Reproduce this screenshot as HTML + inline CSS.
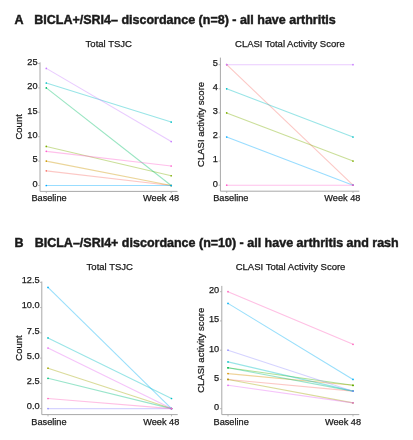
<!DOCTYPE html>
<html><head><meta charset="utf-8"><style>
html,body{margin:0;padding:0;background:#fff;}
body{width:413px;height:440px;overflow:hidden;}
svg{display:block;will-change:transform;}
text{font-family:"Liberation Sans",sans-serif;fill:#1a1a1a;stroke:#1a1a1a;stroke-width:0.25px;}
</style></head><body>
<svg width="413" height="440" viewBox="0 0 413 440">
<rect width="413" height="440" fill="#fff"/>
<text x="14.5" y="23.7" font-size="12.5" font-weight="bold" style="stroke-width:0.45px">A</text>
<text x="34.3" y="23.7" font-size="12.5" font-weight="bold" style="stroke-width:0.45px">BICLA+/SRI4– discordance (n=8) - all have arthritis</text>
<text x="14.4" y="246.9" font-size="12.5" font-weight="bold" style="stroke-width:0.45px">B</text>
<text x="34.7" y="246.9" font-size="12.5" font-weight="bold" style="stroke-width:0.45px">BICLA–/SRI4+ discordance (n=10) - all have arthritis and rash</text>
<line x1="40" y1="62.3" x2="40" y2="191.4" stroke="#a8a8a8" stroke-width="1"/>
<line x1="40" y1="191.4" x2="177.5" y2="191.4" stroke="#a8a8a8" stroke-width="1"/>
<line x1="38.2" y1="185.50" x2="40" y2="185.50" stroke="#a8a8a8" stroke-width="0.8"/>
<text x="37.6" y="186.80" text-anchor="end" font-size="9.2">0</text>
<line x1="38.2" y1="161.10" x2="40" y2="161.10" stroke="#a8a8a8" stroke-width="0.8"/>
<text x="37.6" y="162.40" text-anchor="end" font-size="9.2">5</text>
<line x1="38.2" y1="136.70" x2="40" y2="136.70" stroke="#a8a8a8" stroke-width="0.8"/>
<text x="37.6" y="138.00" text-anchor="end" font-size="9.2">10</text>
<line x1="38.2" y1="112.30" x2="40" y2="112.30" stroke="#a8a8a8" stroke-width="0.8"/>
<text x="37.6" y="113.60" text-anchor="end" font-size="9.2">15</text>
<line x1="38.2" y1="87.90" x2="40" y2="87.90" stroke="#a8a8a8" stroke-width="0.8"/>
<text x="37.6" y="89.20" text-anchor="end" font-size="9.2">20</text>
<line x1="38.2" y1="63.50" x2="40" y2="63.50" stroke="#a8a8a8" stroke-width="0.8"/>
<text x="37.6" y="64.80" text-anchor="end" font-size="9.2">25</text>
<line x1="46.3" y1="191.4" x2="46.3" y2="193.20000000000002" stroke="#a8a8a8" stroke-width="0.8"/>
<line x1="171.2" y1="191.4" x2="171.2" y2="193.20000000000002" stroke="#a8a8a8" stroke-width="0.8"/>
<text x="31.4" y="201.2" text-anchor="start" font-size="9.2">Baseline</text>
<text x="179.2" y="201.2" text-anchor="end" font-size="9.2">Week 48</text>
<text x="108.75" y="47.0" text-anchor="middle" font-size="9.5">Total TSJC</text>
<text transform="translate(21.9,126.85) rotate(-90)" text-anchor="middle" font-size="9.5">Count</text>
<line x1="46.3" y1="170.86" x2="171.2" y2="185.50" stroke="#F8766D" stroke-opacity="0.4" stroke-width="1.1"/>
<line x1="46.3" y1="161.10" x2="171.2" y2="185.50" stroke="#CD9600" stroke-opacity="0.4" stroke-width="1.1"/>
<line x1="46.3" y1="146.46" x2="171.2" y2="175.74" stroke="#7CAE00" stroke-opacity="0.4" stroke-width="1.1"/>
<line x1="46.3" y1="87.90" x2="171.2" y2="185.50" stroke="#00BE67" stroke-opacity="0.4" stroke-width="1.1"/>
<line x1="46.3" y1="83.02" x2="171.2" y2="122.06" stroke="#00BFC4" stroke-opacity="0.4" stroke-width="1.1"/>
<line x1="46.3" y1="185.50" x2="171.2" y2="185.50" stroke="#00A9FF" stroke-opacity="0.4" stroke-width="1.1"/>
<line x1="46.3" y1="68.38" x2="171.2" y2="141.58" stroke="#C77CFF" stroke-opacity="0.4" stroke-width="1.1"/>
<line x1="46.3" y1="151.34" x2="171.2" y2="165.98" stroke="#FF61CC" stroke-opacity="0.4" stroke-width="1.1"/>
<circle cx="46.3" cy="170.86" r="0.85" fill="#F8766D"/>
<circle cx="171.2" cy="185.50" r="0.85" fill="#F8766D"/>
<circle cx="46.3" cy="161.10" r="0.85" fill="#CD9600"/>
<circle cx="171.2" cy="185.50" r="0.85" fill="#CD9600"/>
<circle cx="46.3" cy="146.46" r="0.85" fill="#7CAE00"/>
<circle cx="171.2" cy="175.74" r="0.85" fill="#7CAE00"/>
<circle cx="46.3" cy="87.90" r="0.85" fill="#00BE67"/>
<circle cx="171.2" cy="185.50" r="0.85" fill="#00BE67"/>
<circle cx="46.3" cy="83.02" r="0.85" fill="#00BFC4"/>
<circle cx="171.2" cy="122.06" r="0.85" fill="#00BFC4"/>
<circle cx="46.3" cy="185.50" r="0.85" fill="#00A9FF"/>
<circle cx="171.2" cy="185.50" r="0.85" fill="#00A9FF"/>
<circle cx="46.3" cy="68.38" r="0.85" fill="#C77CFF"/>
<circle cx="171.2" cy="141.58" r="0.85" fill="#C77CFF"/>
<circle cx="46.3" cy="151.34" r="0.85" fill="#FF61CC"/>
<circle cx="171.2" cy="165.98" r="0.85" fill="#FF61CC"/>
<line x1="220.4" y1="57.6" x2="220.4" y2="191.2" stroke="#a8a8a8" stroke-width="1"/>
<line x1="220.4" y1="191.2" x2="359.3" y2="191.2" stroke="#a8a8a8" stroke-width="1"/>
<line x1="218.6" y1="185.20" x2="220.4" y2="185.20" stroke="#a8a8a8" stroke-width="0.8"/>
<text x="217.8" y="186.50" text-anchor="end" font-size="9.2">0</text>
<line x1="218.6" y1="161.10" x2="220.4" y2="161.10" stroke="#a8a8a8" stroke-width="0.8"/>
<text x="217.8" y="162.40" text-anchor="end" font-size="9.2">1</text>
<line x1="218.6" y1="137.00" x2="220.4" y2="137.00" stroke="#a8a8a8" stroke-width="0.8"/>
<text x="217.8" y="138.30" text-anchor="end" font-size="9.2">2</text>
<line x1="218.6" y1="112.90" x2="220.4" y2="112.90" stroke="#a8a8a8" stroke-width="0.8"/>
<text x="217.8" y="114.20" text-anchor="end" font-size="9.2">3</text>
<line x1="218.6" y1="88.80" x2="220.4" y2="88.80" stroke="#a8a8a8" stroke-width="0.8"/>
<text x="217.8" y="90.10" text-anchor="end" font-size="9.2">4</text>
<line x1="218.6" y1="64.70" x2="220.4" y2="64.70" stroke="#a8a8a8" stroke-width="0.8"/>
<text x="217.8" y="66.00" text-anchor="end" font-size="9.2">5</text>
<line x1="226.7" y1="191.2" x2="226.7" y2="193.0" stroke="#a8a8a8" stroke-width="0.8"/>
<line x1="353" y1="191.2" x2="353" y2="193.0" stroke="#a8a8a8" stroke-width="0.8"/>
<text x="213.2" y="201.2" text-anchor="start" font-size="9.2">Baseline</text>
<text x="360.4" y="201.2" text-anchor="end" font-size="9.2">Week 48</text>
<text x="289.85" y="47.0" text-anchor="middle" font-size="9.5">CLASI Total Activity Score</text>
<text transform="translate(204,124.40) rotate(-90)" text-anchor="middle" font-size="9.5">CLASI activity score</text>
<line x1="226.7" y1="64.70" x2="353" y2="185.20" stroke="#F8766D" stroke-opacity="0.4" stroke-width="1.1"/>
<line x1="226.7" y1="112.90" x2="353" y2="161.10" stroke="#7CAE00" stroke-opacity="0.4" stroke-width="1.1"/>
<line x1="226.7" y1="88.80" x2="353" y2="137.00" stroke="#00BFC4" stroke-opacity="0.4" stroke-width="1.1"/>
<line x1="226.7" y1="137.00" x2="353" y2="185.20" stroke="#00A9FF" stroke-opacity="0.4" stroke-width="1.1"/>
<line x1="226.7" y1="64.70" x2="353" y2="64.70" stroke="#C77CFF" stroke-opacity="0.4" stroke-width="1.1"/>
<line x1="226.7" y1="185.20" x2="353" y2="185.20" stroke="#FF61CC" stroke-opacity="0.4" stroke-width="1.1"/>
<circle cx="226.7" cy="64.70" r="0.85" fill="#F8766D"/>
<circle cx="353" cy="185.20" r="0.85" fill="#F8766D"/>
<circle cx="226.7" cy="112.90" r="0.85" fill="#7CAE00"/>
<circle cx="353" cy="161.10" r="0.85" fill="#7CAE00"/>
<circle cx="226.7" cy="88.80" r="0.85" fill="#00BFC4"/>
<circle cx="353" cy="137.00" r="0.85" fill="#00BFC4"/>
<circle cx="226.7" cy="137.00" r="0.85" fill="#00A9FF"/>
<circle cx="353" cy="185.20" r="0.85" fill="#00A9FF"/>
<circle cx="226.7" cy="64.70" r="0.85" fill="#C77CFF"/>
<circle cx="353" cy="64.70" r="0.85" fill="#C77CFF"/>
<circle cx="226.7" cy="185.20" r="0.85" fill="#FF61CC"/>
<circle cx="353" cy="185.20" r="0.85" fill="#FF61CC"/>
<line x1="41.8" y1="281.5" x2="41.8" y2="414.6" stroke="#a8a8a8" stroke-width="1"/>
<line x1="41.8" y1="414.6" x2="177.7" y2="414.6" stroke="#a8a8a8" stroke-width="1"/>
<line x1="40.0" y1="408.60" x2="41.8" y2="408.60" stroke="#a8a8a8" stroke-width="0.8"/>
<text x="39.6" y="409.40" text-anchor="end" font-size="9.2">0.0</text>
<line x1="40.0" y1="383.35" x2="41.8" y2="383.35" stroke="#a8a8a8" stroke-width="0.8"/>
<text x="39.6" y="384.15" text-anchor="end" font-size="9.2">2.5</text>
<line x1="40.0" y1="358.10" x2="41.8" y2="358.10" stroke="#a8a8a8" stroke-width="0.8"/>
<text x="39.6" y="358.90" text-anchor="end" font-size="9.2">5.0</text>
<line x1="40.0" y1="332.85" x2="41.8" y2="332.85" stroke="#a8a8a8" stroke-width="0.8"/>
<text x="39.6" y="333.65" text-anchor="end" font-size="9.2">7.5</text>
<line x1="40.0" y1="307.60" x2="41.8" y2="307.60" stroke="#a8a8a8" stroke-width="0.8"/>
<text x="39.6" y="308.40" text-anchor="end" font-size="9.2">10.0</text>
<line x1="40.0" y1="282.35" x2="41.8" y2="282.35" stroke="#a8a8a8" stroke-width="0.8"/>
<text x="39.6" y="283.15" text-anchor="end" font-size="9.2">12.5</text>
<line x1="48" y1="414.6" x2="48" y2="416.40000000000003" stroke="#a8a8a8" stroke-width="0.8"/>
<line x1="171.5" y1="414.6" x2="171.5" y2="416.40000000000003" stroke="#a8a8a8" stroke-width="0.8"/>
<text x="31.3" y="424.7" text-anchor="start" font-size="9.2">Baseline</text>
<text x="179.3" y="424.7" text-anchor="end" font-size="9.2">Week 48</text>
<text x="109.75" y="270.1" text-anchor="middle" font-size="9.5">Total TSJC</text>
<text transform="translate(21.9,348.05) rotate(-90)" text-anchor="middle" font-size="9.5">Count</text>
<line x1="48" y1="368.20" x2="171.5" y2="408.60" stroke="#A3A500" stroke-opacity="0.4" stroke-width="1.1"/>
<line x1="48" y1="378.30" x2="171.5" y2="408.60" stroke="#00BF7D" stroke-opacity="0.4" stroke-width="1.1"/>
<line x1="48" y1="337.90" x2="171.5" y2="398.50" stroke="#00BFC4" stroke-opacity="0.4" stroke-width="1.1"/>
<line x1="48" y1="287.40" x2="171.5" y2="408.60" stroke="#00B0F6" stroke-opacity="0.4" stroke-width="1.1"/>
<line x1="48" y1="408.60" x2="171.5" y2="408.60" stroke="#9590FF" stroke-opacity="0.4" stroke-width="1.1"/>
<line x1="48" y1="348.00" x2="171.5" y2="408.60" stroke="#E76BF3" stroke-opacity="0.4" stroke-width="1.1"/>
<line x1="48" y1="398.50" x2="171.5" y2="408.60" stroke="#FF62BC" stroke-opacity="0.4" stroke-width="1.1"/>
<circle cx="48" cy="368.20" r="0.85" fill="#A3A500"/>
<circle cx="171.5" cy="408.60" r="0.85" fill="#A3A500"/>
<circle cx="48" cy="378.30" r="0.85" fill="#00BF7D"/>
<circle cx="171.5" cy="408.60" r="0.85" fill="#00BF7D"/>
<circle cx="48" cy="337.90" r="0.85" fill="#00BFC4"/>
<circle cx="171.5" cy="398.50" r="0.85" fill="#00BFC4"/>
<circle cx="48" cy="287.40" r="0.85" fill="#00B0F6"/>
<circle cx="171.5" cy="408.60" r="0.85" fill="#00B0F6"/>
<circle cx="48" cy="408.60" r="0.85" fill="#9590FF"/>
<circle cx="171.5" cy="408.60" r="0.85" fill="#9590FF"/>
<circle cx="48" cy="348.00" r="0.85" fill="#E76BF3"/>
<circle cx="171.5" cy="408.60" r="0.85" fill="#E76BF3"/>
<circle cx="48" cy="398.50" r="0.85" fill="#FF62BC"/>
<circle cx="171.5" cy="408.60" r="0.85" fill="#FF62BC"/>
<line x1="221.8" y1="285.9" x2="221.8" y2="414.6" stroke="#a8a8a8" stroke-width="1"/>
<line x1="221.8" y1="414.6" x2="359.3" y2="414.6" stroke="#a8a8a8" stroke-width="1"/>
<line x1="220.0" y1="408.70" x2="221.8" y2="408.70" stroke="#a8a8a8" stroke-width="0.8"/>
<text x="219.2" y="410.00" text-anchor="end" font-size="9.2">0</text>
<line x1="220.0" y1="379.45" x2="221.8" y2="379.45" stroke="#a8a8a8" stroke-width="0.8"/>
<text x="219.2" y="380.75" text-anchor="end" font-size="9.2">5</text>
<line x1="220.0" y1="350.20" x2="221.8" y2="350.20" stroke="#a8a8a8" stroke-width="0.8"/>
<text x="219.2" y="351.50" text-anchor="end" font-size="9.2">10</text>
<line x1="220.0" y1="320.95" x2="221.8" y2="320.95" stroke="#a8a8a8" stroke-width="0.8"/>
<text x="219.2" y="322.25" text-anchor="end" font-size="9.2">15</text>
<line x1="220.0" y1="291.70" x2="221.8" y2="291.70" stroke="#a8a8a8" stroke-width="0.8"/>
<text x="219.2" y="293.00" text-anchor="end" font-size="9.2">20</text>
<line x1="228" y1="414.6" x2="228" y2="416.40000000000003" stroke="#a8a8a8" stroke-width="0.8"/>
<line x1="353" y1="414.6" x2="353" y2="416.40000000000003" stroke="#a8a8a8" stroke-width="0.8"/>
<text x="213.5" y="424.7" text-anchor="start" font-size="9.2">Baseline</text>
<text x="361" y="424.7" text-anchor="end" font-size="9.2">Week 48</text>
<text x="290.55" y="270.1" text-anchor="middle" font-size="9.5">CLASI Total Activity Score</text>
<text transform="translate(204,350.25) rotate(-90)" text-anchor="middle" font-size="9.5">CLASI activity score</text>
<line x1="228" y1="379.45" x2="353" y2="391.15" stroke="#F8766D" stroke-opacity="0.4" stroke-width="1.1"/>
<line x1="228" y1="373.60" x2="353" y2="385.30" stroke="#D89000" stroke-opacity="0.4" stroke-width="1.1"/>
<line x1="228" y1="379.45" x2="353" y2="402.85" stroke="#A3A500" stroke-opacity="0.4" stroke-width="1.1"/>
<line x1="228" y1="367.75" x2="353" y2="385.30" stroke="#39B600" stroke-opacity="0.4" stroke-width="1.1"/>
<line x1="228" y1="367.75" x2="353" y2="391.15" stroke="#00BF7D" stroke-opacity="0.4" stroke-width="1.1"/>
<line x1="228" y1="361.90" x2="353" y2="391.15" stroke="#00BFC4" stroke-opacity="0.4" stroke-width="1.1"/>
<line x1="228" y1="303.40" x2="353" y2="379.45" stroke="#00B0F6" stroke-opacity="0.4" stroke-width="1.1"/>
<line x1="228" y1="350.20" x2="353" y2="391.15" stroke="#9590FF" stroke-opacity="0.4" stroke-width="1.1"/>
<line x1="228" y1="385.30" x2="353" y2="402.85" stroke="#E76BF3" stroke-opacity="0.4" stroke-width="1.1"/>
<line x1="228" y1="291.70" x2="353" y2="344.35" stroke="#FF62BC" stroke-opacity="0.4" stroke-width="1.1"/>
<circle cx="228" cy="379.45" r="0.85" fill="#F8766D"/>
<circle cx="353" cy="391.15" r="0.85" fill="#F8766D"/>
<circle cx="228" cy="373.60" r="0.85" fill="#D89000"/>
<circle cx="353" cy="385.30" r="0.85" fill="#D89000"/>
<circle cx="228" cy="379.45" r="0.85" fill="#A3A500"/>
<circle cx="353" cy="402.85" r="0.85" fill="#A3A500"/>
<circle cx="228" cy="367.75" r="0.85" fill="#39B600"/>
<circle cx="353" cy="385.30" r="0.85" fill="#39B600"/>
<circle cx="228" cy="367.75" r="0.85" fill="#00BF7D"/>
<circle cx="353" cy="391.15" r="0.85" fill="#00BF7D"/>
<circle cx="228" cy="361.90" r="0.85" fill="#00BFC4"/>
<circle cx="353" cy="391.15" r="0.85" fill="#00BFC4"/>
<circle cx="228" cy="303.40" r="0.85" fill="#00B0F6"/>
<circle cx="353" cy="379.45" r="0.85" fill="#00B0F6"/>
<circle cx="228" cy="350.20" r="0.85" fill="#9590FF"/>
<circle cx="353" cy="391.15" r="0.85" fill="#9590FF"/>
<circle cx="228" cy="385.30" r="0.85" fill="#E76BF3"/>
<circle cx="353" cy="402.85" r="0.85" fill="#E76BF3"/>
<circle cx="228" cy="291.70" r="0.85" fill="#FF62BC"/>
<circle cx="353" cy="344.35" r="0.85" fill="#FF62BC"/>
</svg>
</body></html>
